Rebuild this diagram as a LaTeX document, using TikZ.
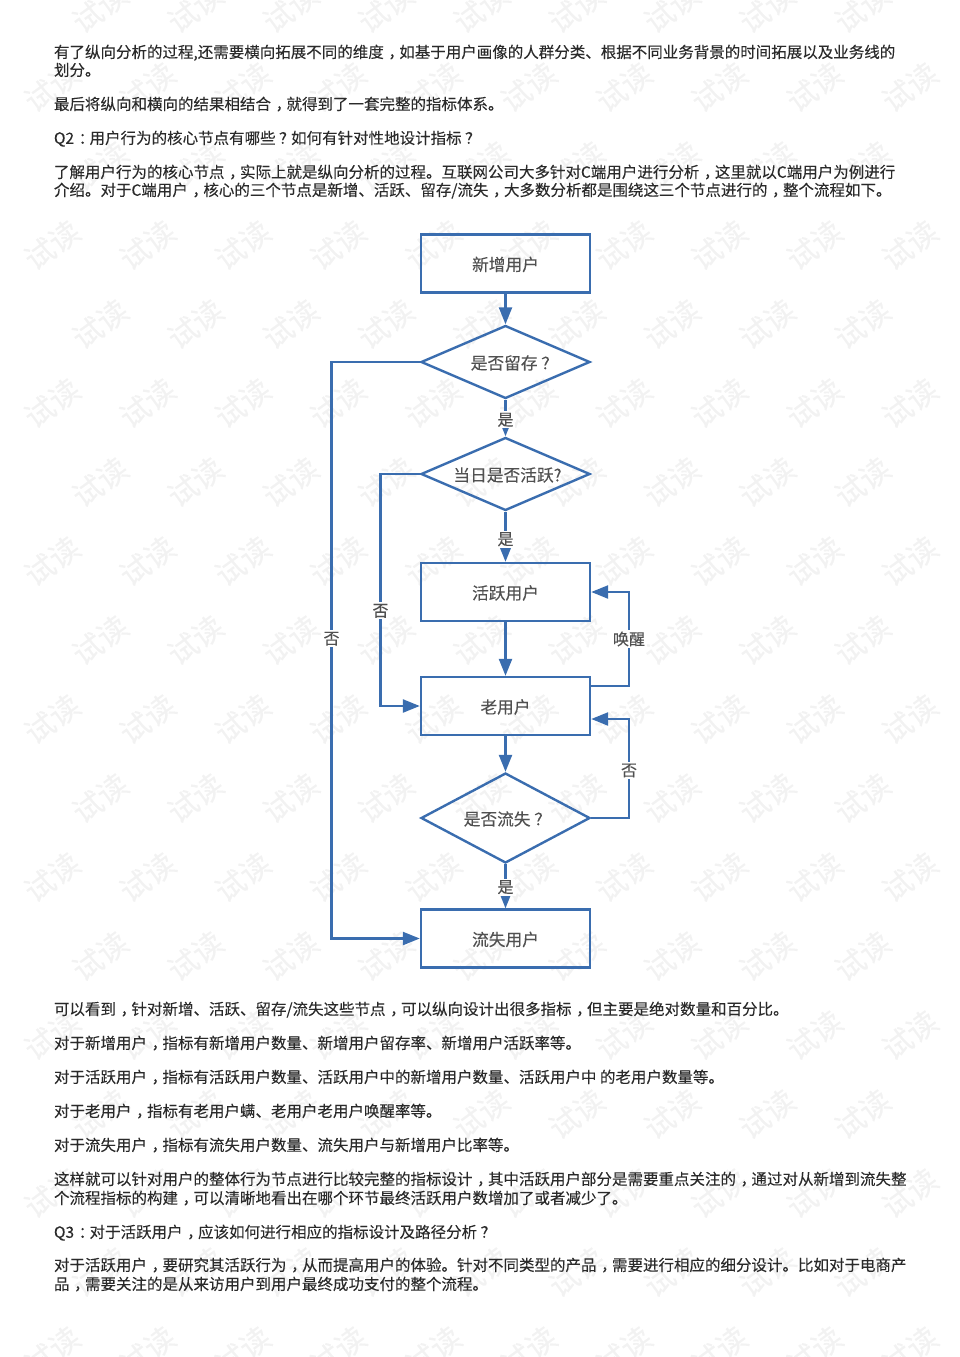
\documentclass[tikz,border=0pt]{standalone}
\usepackage{fontspec}
\setmainfont{Noto Sans CJK SC}[FakeBold=0.15]
\usetikzlibrary{arrows.meta,shapes.geometric}
\definecolor{flowblue}{HTML}{3A6DAF}
\definecolor{marktext}{HTML}{F2F2F2}
\definecolor{bodytext}{HTML}{2A2A2A}
\definecolor{labeltext}{HTML}{505050}
% punctuation sits in the middle of its square
\catcode`，=\active
\catcode`：=\active
\catcode`？=\active
\def，{\makebox[1em][l]{\hspace{0.3em}\char"FF0C }}
\def：{\makebox[1em][l]{\hspace{0.3em}\char"FF1A }}
\def？{\makebox[1em][l]{\hspace{0.22em}\char"FF1F }}
\tikzset{
	% ---- default
	every path/.style={line width=2.4pt},
	% ---- custom
	para/.style={anchor=base west, inner sep=0pt, text=bodytext, font=\fontsize{15.5pt}{18pt}\selectfont},
	watermark/.style={rotate=36, text=marktext, inner sep=0pt, font=\fontsize{30pt}{32pt}\selectfont},
	stepbox/.style={draw=flowblue, rectangle, minimum width=169pt, minimum height=58pt, inner sep=0pt, text=labeltext, text height=16.6pt, text depth=2pt, font=\fontsize{16.7pt}{18pt}\selectfont},
	decision/.style={draw=flowblue, diamond, shape aspect=2.3, minimum width=169pt, minimum height=73pt, inner sep=0pt, text=labeltext, text height=16.6pt, text depth=2pt, font=\fontsize{16.7pt}{18pt}\selectfont},
	flow/.style={draw=flowblue, -{Triangle[length=17pt,width=13pt]}},
	edgelabel/.style={fill=white, inner sep=1.5pt, text=labeltext, font=\fontsize{16pt}{18pt}\selectfont},
}
\begin{document}
\begin{tikzpicture}[x=1pt, y=-1pt]

% page %{{{2

	\useasboundingbox (0,0) rectangle (960,1357);

% watermark %{{{2

	\foreach \row in {8,166,324,482,640,798,956,1114,1272}
		\foreach \col in {0,...,8}
			\node[watermark] (markA\row\col) at ({100+95.3*\col},\row) {试读};
	\foreach \row in {87,245,403,561,719,877,1035,1193,1351}
		\foreach \col in {0,...,9}
			\node[watermark] (markB\row\col) at ({52+95.3*\col},\row) {试读};

% text above %{{{2

	\node[para] (top1) at (52.8,57.8) {有了纵向分析的过程,还需要横向拓展不同的维度，如基于用户画像的人群分类、根据不同业务背景的时间拓展以及业务线的};
	\node[para] (top2) at (52.8,75.8) {划分。};
	\node[para] (top3) at (52.8,109.8) {最后将纵向和横向的结果相结合，就得到了一套完整的指标体系。};
	\node[para] (top4) at (52.8,143.8) {Q2：用户行为的核心节点有哪些？如何有针对性地设计指标？};
	\node[para] (top5) at (52.8,177.8) {了解用户行为的核心节点，实际上就是纵向分析的过程。互联网公司大多针对C端用户进行分析，这里就以C端用户为例进行};
	\node[para] (top6) at (52.8,195.8) {介绍。对于C端用户，核心的三个节点是新增、活跃、留存/流失，大多数分析都是围绕这三个节点进行的，整个流程如下。};

% flowchart nodes %{{{2

	\node[stepbox] (new) at (505.5,263.5) {新增用户};
	\node[decision] (keep) at (505.5,362) {\hspace*{14pt}是否留存？};
	\node[decision] (today) at (505.5,474) {\hspace*{4pt}当日是否活跃?};
	\node[stepbox] (active) at (505.5,592) {活跃用户};
	\node[stepbox] (old) at (505.5,706) {老用户};
	\node[decision, minimum height=90pt] (churn) at (505.5,818) {是否流失？};
	\node[stepbox] (lost) at (505.5,938.5) {流失用户};

% corners of the lines %{{{2

	\coordinate (keepcorner) at (331.5,362);
	\coordinate (lostcorner) at (331.5,938.5);
	\coordinate (todaycorner) at (380.5,474);
	\coordinate (oldcorner) at (380.5,706);
	\coordinate (wakestart) at (old.east |- 0,686);
	\coordinate (wakelow) at (629,686);
	\coordinate (wakehigh) at (629,592);
	\coordinate (churncorner) at (629,818);
	\coordinate (backhigh) at (629,719);
	\coordinate (backend) at (old.east |- 0,719);

% connectors %{{{2

	\draw[flow] (new) -- (keep);
	\draw[flow] (keep) -- node[edgelabel, pos=0.55] {是} (today);
	\draw[flow] (today) -- node[edgelabel, pos=0.55] {是} (active);
	\draw[flow] (active) -- (old);
	\draw[flow] (old) -- (churn);
	\draw[flow] (churn) -- node[edgelabel, pos=0.52] {是} (lost);
	\draw[flow] (keep.west) -- (keepcorner) -- node[edgelabel, pos=0.48] {否} (lostcorner) -- (lost.west);
	\draw[flow] (today.west) -- (todaycorner) -- node[edgelabel, pos=0.59] {否} (oldcorner) -- (old.west);
	\draw[flow] (wakestart) -- (wakelow) -- node[edgelabel] {唤醒} (wakehigh) -- (active.east);
	\draw[flow] (churn.east) -- (churncorner) -- node[edgelabel, pos=0.48] {否} (backhigh) -- (backend);

% text below %{{{2

	\node[para] (low1) at (52.8,1014.8) {可以看到，针对新增、活跃、留存/流失这些节点，可以纵向设计出很多指标，但主要是绝对数量和百分比。};
	\node[para] (low2) at (52.8,1048.8) {对于新增用户，指标有新增用户数量、新增用户留存率、新增用户活跃率等。};
	\node[para] (low3) at (52.8,1082.8) {对于活跃用户，指标有活跃用户数量、活跃用户中的新增用户数量、活跃用户中 的老用户数量等。};
	\node[para] (low4) at (52.8,1116.8) {对于老用户，指标有老用户螨、老用户老用户唤醒率等。};
	\node[para] (low5) at (52.8,1150.8) {对于流失用户，指标有流失用户数量、流失用户与新增用户比率等。};
	\node[para] (low6) at (52.8,1184.8) {这样就可以针对用户的整体行为节点进行比较完整的指标设计，其中活跃用户部分是需要重点关注的，通过对从新增到流失整};
	\node[para] (low7) at (52.8,1203.8) {个流程指标的构建，可以清晰地看出在哪个环节最终活跃用户数增加了或者减少了。};
	\node[para] (low8) at (52.8,1237.8) {Q3：对于活跃用户，应该如何进行相应的指标设计及路径分析？};
	\node[para] (low9) at (52.8,1270.8) {对于活跃用户，要研究其活跃行为，从而提高用户的体验。针对不同类型的产品，需要进行相应的细分设计。比如对于电商产};
	\node[para] (low10) at (52.8,1289.8) {品，需要关注的是从来访用户到用户最终成功支付的整个流程。};

% closing %{{{2

\end{tikzpicture}
\end{document}
